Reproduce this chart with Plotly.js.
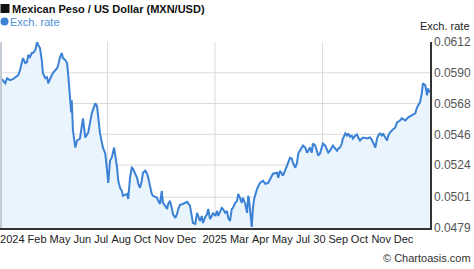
<!DOCTYPE html>
<html>
<head>
<meta charset="utf-8">
<script src="https://cdn.plot.ly/plotly-3.0.1.min.js"></script>
<style>
html,body{margin:0;padding:0;background:#fff;}
#chart{width:474px;height:269px;}
</style>
</head>
<body>
<div id="chart"></div>
<script>
// Days since start of 2024 (approx.)
const days = [0,5,9,12,17,22,26,31,34,37,39,43,46,48,51,54,56,60,63,65,68,71,73,77,80,82,85,88,90,97,99,102,105,107,111,114,116,119,121,122,124,128,131,136,141,145,150,156,162,165,167,170,175,179,182,184,187,190,194,197,199,201,204,207,209,216,218,221,224,226,230,233,235,238,241,243,247,250,252,255,258,260,267,269,272,275,277,281,284,286,289,292,294,298,301,303,306,311,318,323,328,332,335,337,340,343,345,349,352,354,357,360,362,366,369,371,374,377,379,383,386,388,391,394,396,400,403,405,408,411,413,417,420,422,423,427,428,430,432,437,442,447,451,456,459,464,471,473,476,479,481,488,490,493,496,498,502,505,507,510,513,515,519,522,524,527,530,532,536,539,541,544,547,549,553,556,558,561,564,566,570,573,575,578,581,583,587,590,592,595,598,600,604,607,609,612,615,617,624,629,632,634,638,641,643,646,649,651,655,658,660,663,668,672,675,680,683,689,694,700,706,709,714,717,719,723,726,728,729,731];

// MXN/USD exchange rate
const rate = [0.05868,0.05847,0.05825,0.05861,0.05847,0.05854,0.05868,0.05883,0.05919,0.05969,0.06005,0.05969,0.05976,0.06027,0.06012,0.06041,0.06041,0.06062,0.06120,0.06098,0.06077,0.05991,0.05897,0.05861,0.05868,0.05825,0.05861,0.05883,0.05897,0.05933,0.05955,0.06012,0.06041,0.06005,0.05991,0.05969,0.05883,0.05725,0.05617,0.05703,0.05487,0.05365,0.05415,0.05430,0.05574,0.05437,0.05473,0.05610,0.05681,0.05660,0.05559,0.05466,0.05365,0.05322,0.05200,0.05113,0.05272,0.05293,0.05365,0.05293,0.05221,0.05128,0.05078,0.05056,0.05020,0.05034,0.04998,0.05149,0.05221,0.05214,0.05178,0.05149,0.05106,0.05078,0.05128,0.05185,0.05200,0.05178,0.05149,0.05078,0.05034,0.05020,0.05006,0.04984,0.04962,0.05056,0.04970,0.04948,0.04926,0.04962,0.04984,0.04934,0.04890,0.04862,0.04890,0.04926,0.04955,0.04962,0.04977,0.04948,0.04826,0.04819,0.04898,0.04876,0.04840,0.04876,0.04826,0.04869,0.04890,0.04926,0.04854,0.04876,0.04898,0.04876,0.04912,0.04876,0.04912,0.04934,0.04926,0.04898,0.04912,0.04862,0.04840,0.04926,0.04934,0.04970,0.04984,0.05034,0.05006,0.04970,0.05006,0.04962,0.04898,0.05020,0.05006,0.04840,0.04797,0.04934,0.04998,0.05070,0.05113,0.05128,0.05106,0.05113,0.05142,0.05178,0.05185,0.05149,0.05200,0.05178,0.05164,0.05236,0.05257,0.05293,0.05286,0.05257,0.05221,0.05257,0.05322,0.05343,0.05365,0.05379,0.05365,0.05329,0.05343,0.05365,0.05329,0.05394,0.05379,0.05329,0.05308,0.05322,0.05365,0.05394,0.05379,0.05343,0.05329,0.05343,0.05365,0.05379,0.05358,0.05343,0.05358,0.05365,0.05394,0.05430,0.05466,0.05451,0.05466,0.05444,0.05451,0.05430,0.05451,0.05459,0.05437,0.05415,0.05430,0.05437,0.05430,0.05437,0.05423,0.05401,0.05365,0.05430,0.05451,0.05466,0.05451,0.05466,0.05430,0.05415,0.05451,0.05473,0.05495,0.05509,0.05545,0.05559,0.05574,0.05559,0.05581,0.05595,0.05610,0.05653,0.05689,0.05753,0.05825,0.05811,0.05739,0.05789,0.05761,0.05775];

// X tick labels and positions (days)
const xTickDays = [21,63,102,140,172,206,242,279,317,365,407,443,480,515,543,575,611,648,686];
const xTickLabels = ["2024","Feb","May","Jun","Jul","Aug","Oct","Nov","Dec","2025","Mar","Apr","May","Jul","30","Sep","Oct","Nov","Dec"];

// Y ticks
const yTickVals = [0.0479,0.0501,0.0524,0.0546,0.0568,0.0590,0.0612];
const yTickLabels = ["0.0479","0.0501","0.0524","0.0546","0.0568","0.0590","0.0612"];
const yGrid = [0.0501,0.0524,0.0546,0.0568,0.0590];

const W = 474, H = 269;
const M = {l:0, r:44, t:42, b:41};
const PW = W - M.l - M.r, PH = H - M.t - M.b;
const px = x => (x - M.l) / PW;
const py = y => (H - M.b - y) / PH;

const FONT = "Liberation Sans, Arial, sans-serif";

const shapes = [];
yGrid.forEach(v => shapes.push({type:'line', xref:'paper', yref:'y', x0:0, x1:1, y0:v, y1:v, layer:'below', line:{color:'#dcdcdc', width:1}}));
[0.25,0.5,0.75].forEach(f => shapes.push({type:'line', xref:'paper', yref:'paper', x0:f, x1:f, y0:0, y1:1, layer:'below', line:{color:'#dcdcdc', width:1}}));
shapes.push({type:'line', xref:'paper', yref:'paper', x0:px(1), x1:px(1), y0:0, y1:1, layer:'above', line:{color:'#c5ccd4', width:2}});
// title square and legend dot
shapes.push({type:'rect', xref:'paper', yref:'paper', x0:px(0.5), x1:px(9.5), y0:py(13), y1:py(4), fillcolor:'#111', line:{width:0}});
shapes.push({type:'circle', xref:'paper', yref:'paper', x0:px(0.5), x1:px(8.5), y0:py(25.5), y1:py(17.5), fillcolor:'#3b82d6', line:{width:0}});

const annotations = [
  {text:'<b>Mexican Peso / US Dollar (MXN/USD)</b>', xref:'paper', yref:'paper', x:px(11), y:py(9), xanchor:'left', yanchor:'middle', showarrow:false, font:{family:FONT, size:11, color:'#111'}, borderpad:0},
  {text:'Exch. rate', xref:'paper', yref:'paper', x:px(9), y:py(22), xanchor:'left', yanchor:'middle', showarrow:false, font:{family:FONT, size:11, color:'#4a8fdb'}, borderpad:0},
  {text:'Exch. rate', xref:'paper', yref:'paper', x:px(471), y:py(26), xanchor:'right', yanchor:'middle', showarrow:false, font:{family:FONT, size:11, color:'#222'}, borderpad:0},
  {text:'© Chartoasis.com', xref:'paper', yref:'paper', x:px(472), y:py(258), xanchor:'right', yanchor:'middle', showarrow:false, font:{family:FONT, size:11, color:'#333'}, borderpad:0}
];

const trace = {
  x: days, y: rate, type:'scatter', mode:'lines',
  line:{color:'#3b82d6', width:2},
  fill:'tozeroy', fillcolor:'#eaf4fd',
  hoverinfo:'skip'
};

const layout = {
  width:W, height:H,
  margin:{l:M.l, r:M.r, t:M.t, b:M.b, pad:0},
  paper_bgcolor:'#fff', plot_bgcolor:'#fff',
  showlegend:false,
  xaxis:{range:[0,731], tickmode:'array', tickvals:xTickDays, ticktext:xTickLabels, tickangle:0,
         showgrid:false, zeroline:false, showline:true, linecolor:'#333', linewidth:1.5,
         ticks:'', tickfont:{family:FONT, size:11, color:'#222'}, fixedrange:true},
  yaxis:{range:[0.0479,0.0612], side:'right', tickmode:'array', tickvals:yTickVals, ticktext:yTickLabels,
         showgrid:false, zeroline:false, showline:true, linecolor:'#333', linewidth:1.5,
         ticks:'', tickfont:{family:FONT, size:12, color:'#555'}, fixedrange:true},
  shapes:shapes,
  annotations:annotations
};

Plotly.newPlot('chart', [trace], layout, {displayModeBar:false, staticPlot:true});
</script>
</body>
</html>
